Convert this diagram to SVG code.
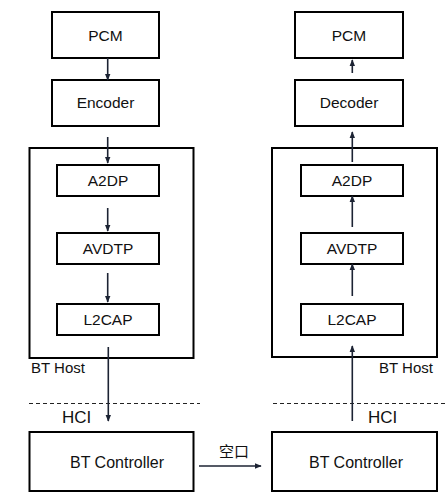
<svg xmlns="http://www.w3.org/2000/svg" width="447" height="497" viewBox="0 0 447 497">
<defs>
<marker id="ah" viewBox="0 0 10 10" refX="9" refY="5" markerWidth="4.5" markerHeight="4.5" markerUnits="strokeWidth" orient="auto">
<path d="M0,1 L10,5 L0,9 Z" fill="#1c2333"/>
</marker>
<style>
.box{fill:#fff;stroke:#000;stroke-width:2}
.t{font-family:"Liberation Sans",Arial,sans-serif;font-size:15.5px;fill:#111;text-anchor:middle}
.l{font-family:"Liberation Sans",Arial,sans-serif;font-size:15px;fill:#111}
.hci{font-family:"Liberation Sans",Arial,sans-serif;font-size:17px;fill:#111}
.cn{font-family:"Noto Sans CJK SC",sans-serif;font-size:15px;fill:#111}
.c{stroke:#1c2333;stroke-width:1.6;fill:none;marker-end:url(#ah)}
.d{stroke:#222;stroke-width:1;stroke-dasharray:4,3;fill:none}
</style>
</defs>
<rect width="447" height="497" fill="#fff"/>
<g id="left-host"><rect class="box" x="29.5" y="148" width="164" height="210"/><text class="l" x="31" y="373">BT Host</text></g>
<g id="right-host"><rect class="box" x="272" y="148" width="165" height="209"/><text class="l" x="379" y="373">BT Host</text></g>
<g id="left-pcm"><rect class="box" x="52" y="12" width="107" height="46"/><text class="t" x="105.5" y="41">PCM</text></g>
<g id="left-encoder"><rect class="box" x="52" y="80" width="107" height="46"/><text class="t" x="105.5" y="108">Encoder</text></g>
<g id="left-a2dp"><rect class="box" x="57" y="165" width="102" height="31"/><text class="t" x="108" y="186">A2DP</text></g>
<g id="left-avdtp"><rect class="box" x="57" y="233" width="102" height="31"/><text class="t" x="108" y="254">AVDTP</text></g>
<g id="left-l2cap"><rect class="box" x="57" y="304" width="102" height="31"/><text class="t" x="108" y="325">L2CAP</text></g>
<g id="left-controller"><rect class="box" x="29.5" y="432" width="164" height="59"/><text class="t" x="117" y="468" style="font-size:16px">BT Controller</text></g>
<g id="right-pcm"><rect class="box" x="295" y="12" width="108" height="46"/><text class="t" x="349" y="41">PCM</text></g>
<g id="right-decoder"><rect class="box" x="295" y="80" width="108" height="46"/><text class="t" x="349" y="108">Decoder</text></g>
<g id="right-a2dp"><rect class="box" x="301" y="165" width="102" height="31"/><text class="t" x="352" y="186">A2DP</text></g>
<g id="right-avdtp"><rect class="box" x="301" y="233" width="102" height="31"/><text class="t" x="352" y="254">AVDTP</text></g>
<g id="right-l2cap"><rect class="box" x="301" y="304" width="102" height="31"/><text class="t" x="352" y="325">L2CAP</text></g>
<g id="right-controller"><rect class="box" x="272" y="432" width="165" height="59"/><text class="t" x="356" y="468" style="font-size:16px">BT Controller</text></g>
<g id="hci">
<line class="d" x1="29" y1="403.5" x2="200" y2="403.5"/>
<line class="d" x1="273" y1="403.5" x2="445" y2="403.5"/>
<text class="hci" x="62" y="423">HCI</text>
<text class="hci" x="368" y="423">HCI</text>
<text class="cn" x="219" y="457">空口</text>
</g>
<g id="connectors">
<line class="c" x1="107.7" y1="58" x2="107.7" y2="80"/>
<line class="c" x1="107.7" y1="137" x2="107.7" y2="163"/>
<line class="c" x1="107.7" y1="208" x2="107.7" y2="231"/>
<line class="c" x1="107.7" y1="273" x2="107.7" y2="302"/>
<line class="c" x1="108.3" y1="347" x2="108.3" y2="421"/>
<line class="c" x1="199" y1="466" x2="261" y2="466"/>
<line class="c" x1="352.3" y1="421" x2="352.3" y2="346"/>
<line class="c" x1="352.3" y1="296" x2="352.3" y2="264"/>
<line class="c" x1="352.3" y1="227" x2="352.3" y2="196"/>
<line class="c" x1="352.3" y1="162" x2="352.3" y2="132"/>
<line class="c" x1="352.3" y1="73" x2="352.3" y2="60"/>
</g>
</svg>
